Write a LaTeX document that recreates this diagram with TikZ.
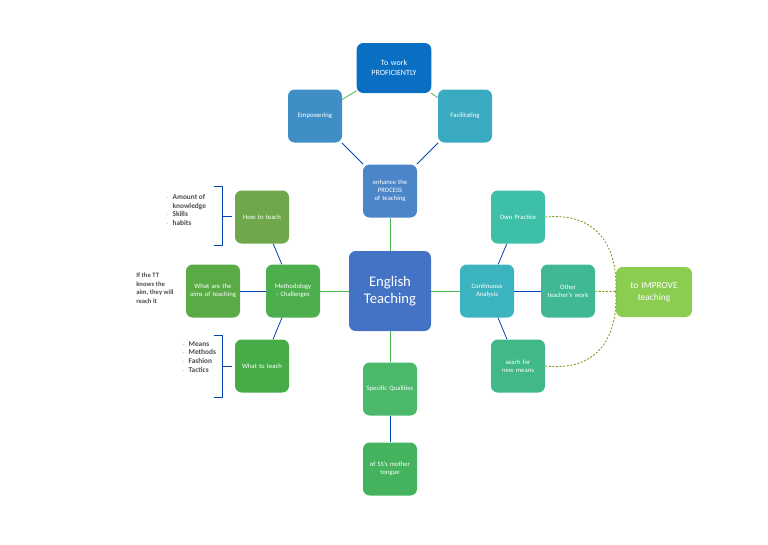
\documentclass[tikz,border=0pt]{standalone}
\usepackage{fontspec}
\setmainfont{Carlito}
\begin{document}
\begin{tikzpicture}[x=0.75pt,y=-0.75pt,
 box/.style={rounded corners=5pt,minimum width=40.5pt,minimum height=39.75pt,text width=38pt,align=center,text=white,font=\fontsize{5}{6}\selectfont,inner sep=1pt},
 bl/.style={draw=blue!60!cyan!70!black,line width=0.6pt},
 gl/.style={draw=green!60!black!70,line width=0.6pt},
 dl/.style={draw=olive!70!green,dashed,dash pattern=on 1.5pt off 1.2pt,line width=0.6pt},
 note/.style={font=\bfseries\fontsize{5.5}{6.5}\selectfont,text=black!70,align=left,inner sep=0pt}]
\useasboundingbox (0,0) rectangle (768,544);
\definecolor{c1}{HTML}{0A6FC2}\definecolor{c2}{HTML}{3F8FC6}\definecolor{c3}{HTML}{3AAAC0}
\definecolor{c4}{HTML}{4A86C8}\definecolor{c5}{HTML}{4472C4}\definecolor{c6}{HTML}{4CAE4C}
\definecolor{c7}{HTML}{6EA84A}\definecolor{c8}{HTML}{5AAB46}\definecolor{c9}{HTML}{46AC48}
\definecolor{c10}{HTML}{4CB86A}\definecolor{c11}{HTML}{45B35E}\definecolor{c12}{HTML}{3BB4C0}
\definecolor{c13}{HTML}{3EC0A8}\definecolor{c14}{HTML}{40B896}\definecolor{c15}{HTML}{40B888}
\definecolor{c16}{HTML}{8ACD50}
\node[box,fill=c1,minimum width=56pt,minimum height=37.5pt,text width=52pt,font=\fontsize{6}{7.5}\selectfont] (pro) at (394,68) {To work\\PROFICIENTLY};
\node[box,fill=c2] (emp) at (315,116) {Empowering};
\node[box,fill=c3] (fac) at (465,116) {Facilitating};
\node[box,fill=c4] (enh) at (390,191) {enhance the PROCESS of teaching};
\node[box,fill=c5,minimum width=61.5pt,minimum height=60pt,text width=58pt,font=\fontsize{11}{13}\selectfont] (eng) at (390,291) {English Teaching};
\node[box,fill=c6] (met) at (293,291) {Methodology - Challenges};
\node[box,fill=c7] (how) at (262,217) {How to teach};
\node[box,fill=c8] (aim) at (213,291) {What are the aims of teaching};
\node[box,fill=c9] (wht) at (262,366) {What to teach};
\node[box,fill=c10] (spe) at (390,389) {Specific Qualities};
\node[box,fill=c11] (ss) at (390,469) {of SS's mother tongue};
\node[box,fill=c12] (con) at (487,291) {Continuous Analysis};
\node[box,fill=c13] (own) at (518,217) {Own Practice};
\node[box,fill=c14] (oth) at (568,291) {Other teacher's work};
\node[box,fill=c15] (sea) at (518,366) {searh for new means};
\node[box,fill=c16,minimum width=57pt,minimum height=37.5pt,text width=54pt,font=\fontsize{7}{9}\selectfont] (imp) at (654,292) {to IMPROVE teaching};
\draw[gl] (pro) -- (emp); \draw[gl] (pro) -- (fac);
\draw[bl] (emp) -- (enh); \draw[bl] (fac) -- (enh);
\draw[gl] (enh) -- (eng); \draw[gl] (eng) -- (met); \draw[gl] (eng) -- (con); \draw[gl] (eng) -- (spe);
\draw[bl] (spe) -- (ss);
\draw[bl] (met) -- (how); \draw[bl] (met) -- (aim); \draw[bl] (met) -- (wht);
\draw[bl] (con) -- (own); \draw[bl] (con) -- (oth); \draw[bl] (con) -- (sea);
\draw[dl] (oth) -- (imp);
\draw[dl] (own.east) .. controls (600,212) and (618,250) .. (imp.west);
\draw[dl] (sea.east) .. controls (600,372) and (618,334) .. (imp.west);
\coordinate (b1t) at (222,186); \coordinate (b1b) at (222,245);
\draw[bl] (214,186) -- (b1t) -- (b1b) -- (214,245); \draw[bl] (222,216) -- (232,216);
\draw[bl] (214,335) -- (222,335) -- (222,397) -- (214,397); \draw[bl] (222,366) -- (232,366);
\node[note,anchor=north west] (n1) at (166,194) {$\cdot$\ \ Amount of\\\phantom{$\cdot$}\ \ knowledge\\$\cdot$\ \ Skills\\$\cdot$\ \ habits};
\node[note,anchor=north west] (n2) at (182,341) {$\cdot$\ \ Means\\$\cdot$\ \ Methods\\$\cdot$\ \ Fashion\\$\cdot$\ \ Tactics};
\node[note,anchor=north west,font=\bfseries\fontsize{5}{6.3}\selectfont] (n3) at (136,273) {If the TT\\knows the\\aim, they will\\reach it};
\end{tikzpicture}
\end{document}
